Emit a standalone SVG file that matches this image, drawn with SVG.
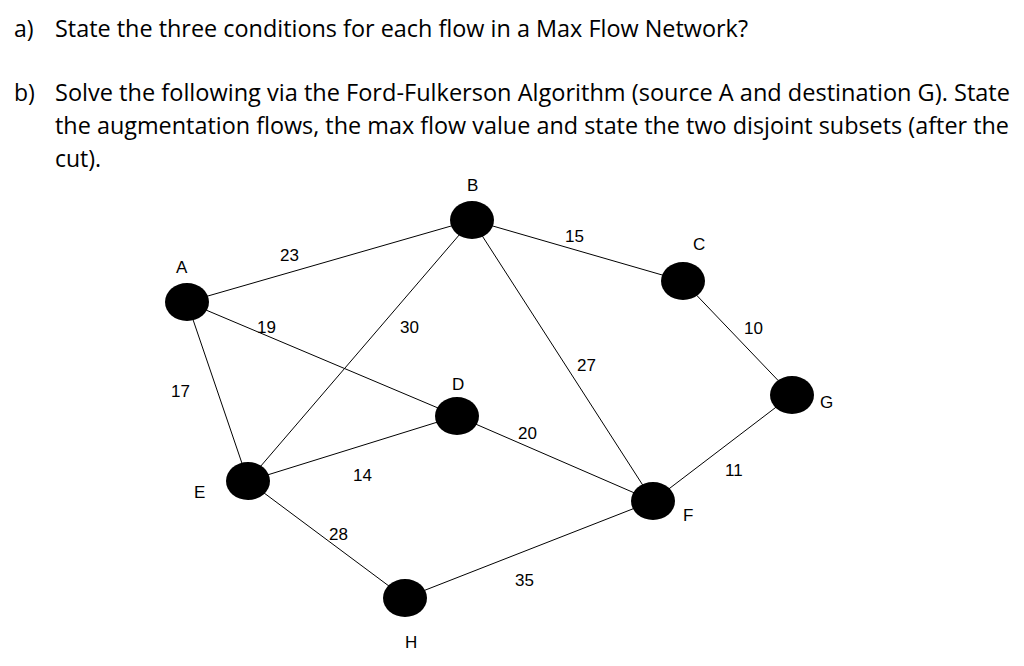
<svg xmlns="http://www.w3.org/2000/svg" width="1024" height="666" viewBox="0 0 1024 666">
<style>
.q{font-family:"Open Sans","Liberation Sans",sans-serif;font-size:23px;fill:#000}
.l{font-family:"Liberation Sans","DejaVu Sans",sans-serif;font-size:17px;fill:#000}
.e{stroke:#000;stroke-width:1;fill:none}
.n{fill:#000}
</style>
<rect width="1024" height="666" fill="#fff"/>
<text class="q" x="14" y="37">a)</text>
<text class="q" x="55" y="37" textLength="693" lengthAdjust="spacingAndGlyphs">State the three conditions for each flow in a Max Flow Network?</text>
<text class="q" x="14" y="101">b)</text>
<text class="q" x="55" y="101" textLength="955" lengthAdjust="spacingAndGlyphs">Solve the following via the Ford-Fulkerson Algorithm (source A and destination G). State</text>
<text class="q" x="55" y="134" textLength="954" lengthAdjust="spacingAndGlyphs">the augmentation flows, the max flow value and state the two disjoint subsets (after the</text>
<text class="q" x="55" y="167">cut).</text>
<g id="edges">
<line class="e" x1="187" y1="302" x2="472" y2="220"/>
<line class="e" x1="187" y1="302" x2="457" y2="416"/>
<line class="e" x1="187" y1="302" x2="248" y2="481"/>
<line class="e" x1="472" y1="220" x2="248" y2="481"/>
<line class="e" x1="472" y1="220" x2="683" y2="281"/>
<line class="e" x1="472" y1="220" x2="653" y2="501"/>
<line class="e" x1="683" y1="281" x2="792" y2="395"/>
<line class="e" x1="457" y1="416" x2="248" y2="481"/>
<line class="e" x1="457" y1="416" x2="653" y2="501"/>
<line class="e" x1="248" y1="481" x2="405" y2="598"/>
<line class="e" x1="405" y1="598" x2="653" y2="501"/>
<line class="e" x1="653" y1="501" x2="792" y2="395"/>
</g>
<g id="edge-labels" class="l">
<text x="280" y="261">23</text>
<text x="257" y="333">19</text>
<text x="400" y="333">30</text>
<text x="565" y="242">15</text>
<text x="577" y="371">27</text>
<text x="744" y="334">10</text>
<text x="171" y="397">17</text>
<text x="518" y="439">20</text>
<text x="353" y="481">14</text>
<text x="725" y="476">11</text>
<text x="329" y="540">28</text>
<text x="515" y="586">35</text>
</g>
<g id="A"><ellipse class="n" cx="187" cy="302" rx="22" ry="19"/><text class="l" x="176" y="273">A</text></g>
<g id="B"><ellipse class="n" cx="472" cy="220" rx="22" ry="19"/><text class="l" x="467" y="191">B</text></g>
<g id="C"><ellipse class="n" cx="683" cy="281" rx="22" ry="19"/><text class="l" x="693" y="250">C</text></g>
<g id="D"><ellipse class="n" cx="457" cy="416" rx="22" ry="19"/><text class="l" x="452" y="390">D</text></g>
<g id="E"><ellipse class="n" cx="248" cy="481" rx="22" ry="19"/><text class="l" x="194" y="498">E</text></g>
<g id="F"><ellipse class="n" cx="653" cy="501" rx="22" ry="19"/><text class="l" x="683" y="521">F</text></g>
<g id="G"><ellipse class="n" cx="792" cy="395" rx="22" ry="19"/><text class="l" x="820" y="408">G</text></g>
<g id="H"><ellipse class="n" cx="405" cy="598" rx="22" ry="19"/><text class="l" x="405" y="648">H</text></g>
</svg>
